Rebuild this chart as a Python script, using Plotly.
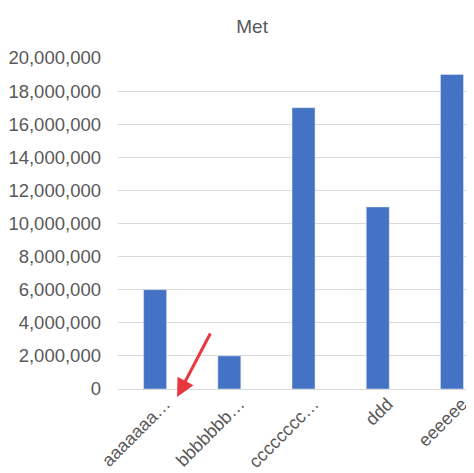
import plotly.graph_objects as go

# chart data
categories = ["aaaaaaa…", "bbbbbbb…", "cccccccc…", "ddd", "eeeeee"]
met_values = [6000000, 2000000, 17000000, 11000000, 19000000]
y_ticks = list(range(0, 20000001, 2000000))

fig = go.Figure()
fig.add_trace(go.Bar(
    x=list(range(len(categories))),
    y=met_values,
    marker_color="#4472C4",
    width=0.31,
    name="Met",
))

font_name = "Liberation Sans, Arial, sans-serif"
grey = "#595959"

# page body adds 8px on the left/top, margins account for it
fig.update_layout(
    width=474,
    height=473,
    margin=dict(l=110, r=10, t=50, b=92),
    paper_bgcolor="white",
    plot_bgcolor="white",
    showlegend=False,
    font=dict(family=font_name, size=18, color=grey),
    title=dict(text="Met", x=0.515, xanchor="center", y=0.962, yanchor="middle",
               font=dict(family=font_name, size=19, color=grey)),
)

fig.update_xaxes(
    range=[-0.5, 4.27],
    tickmode="array",
    tickvals=list(range(len(categories))),
    ticktext=categories,
    tickangle=-45,
    showgrid=False,
    showline=False,
    zeroline=False,
    automargin=False,
    tickfont=dict(size=18, color=grey),
    ticklabelshift=10,
    ticklabelstandoff=0,
)

fig.update_yaxes(
    range=[0, 20000000],
    tickmode="array",
    tickvals=y_ticks,
    ticktext=[f"{v:,}" for v in y_ticks],
    showgrid=True,
    gridcolor="#D9D9D9",
    gridwidth=1,
    zeroline=True,
    zerolinecolor="#D9D9D9",
    zerolinewidth=1,
    showline=False,
    automargin=False,
    tickfont=dict(size=18.5, color=grey),
    ticklabelstandoff=16,
)

# red arrow pointing at the first label (paper coords so it is not hidden)
fig.add_annotation(
    x=0.167, y=-0.024, xref="paper", yref="paper",
    ax=34, ay=-65,
    text="",
    showarrow=True,
    arrowhead=2,
    arrowsize=1.2,
    arrowwidth=3,
    arrowcolor="#E8383D",
)

fig.write_html("out.html")
